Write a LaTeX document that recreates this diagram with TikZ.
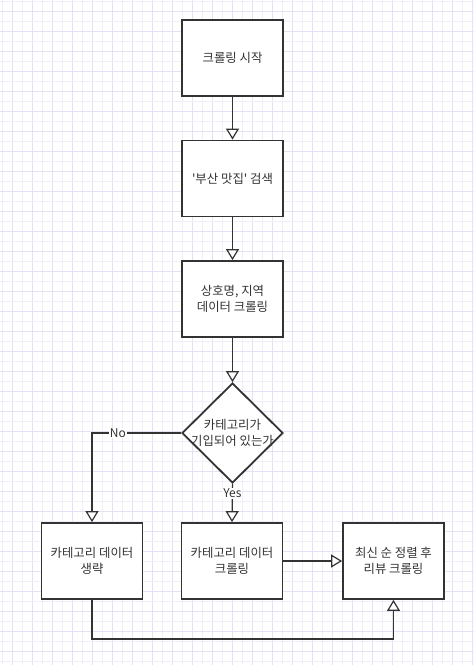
\documentclass[tikz,border=0pt]{standalone}
\usepackage{fontspec}
\setmainfont{Noto Sans CJK KR}
\usetikzlibrary{shapes.geometric,arrows.meta}
\definecolor{gridA}{RGB}{239,239,250}
\definecolor{gridB}{RGB}{226,226,246}
\definecolor{ink}{RGB}{51,51,51}
\tikzset{
  box/.style={draw=ink, line width=1.8pt, fill=white, minimum width=101pt, minimum height=76pt, inner sep=0pt, align=center, text=ink, font=\fontsize{12.4}{16}\selectfont},
  conn/.style={draw=ink, line width=1.2pt, -{Triangle[length=11pt, width=13pt, fill=white, line width=1.2pt]}},
  lbl/.style={fill=white, inner sep=1pt, text=ink, font=\fontsize{12}{13}\selectfont},
  dia/.style={draw=ink, line width=1.8pt, fill=white, diamond, minimum width=101pt, minimum height=100pt, inner sep=0pt}
}
\begin{document}
\begin{tikzpicture}[x=1pt,y=-1pt]
\useasboundingbox (0,0) rectangle (474,665);
\fill[white] (0,0) rectangle (474,665);
\foreach \i in {0,...,47} {
  \pgfmathtruncatemacro{\m}{mod(\i,2)}
  \ifnum\m=1 \draw[gridB, line width=0.8pt] (2+10*\i,0) -- (2+10*\i,665);
  \else \draw[gridA, line width=0.8pt] (2+10*\i,0) -- (2+10*\i,665); \fi
}
\foreach \j in {0,...,66} {
  \pgfmathtruncatemacro{\m}{mod(\j,2)}
  \ifnum\m=1 \draw[gridB, line width=0.8pt] (0,1+10*\j) -- (474,1+10*\j);
  \else \draw[gridA, line width=0.8pt] (0,1+10*\j) -- (474,1+10*\j); \fi
}
\node[box] (b1) at (232.5,58) {크롤링 시작};
\node[box] (b2) at (232.5,178.5) {\textquotesingle 부산 맛집\textquotesingle{} 검색};
\node[box] (b3) at (232.5,299) {상호명, 지역\\데이터 크롤링};
\node[dia] (d) at (232.5,433) {};
\node[align=center, text=ink, font=\fontsize{12.4}{16}\selectfont] (dt) at (d) {카테고리가\\기입되어 있는가};
\node[box] (b4) at (92,561) {카테고리 데이터\\생략};
\node[box] (b5) at (232,561) {카테고리 데이터\\크롤링};
\node[box] (b6) at (393.5,561) {최신 순 정렬 후\\리뷰 크롤링};
\draw[conn] (b1) -- (b2);
\draw[conn] (b2) -- (b3);
\draw[conn] (b3) -- (d);
\draw[conn] (d.west) -| node[lbl, pos=0.355] {No} (b4.north);
\draw[conn] (d.south) -- node[lbl, pos=0.25] {Yes} (b5.north);
\draw[conn] (b5.east) -- (b6.west);
\draw[conn] (b4.south) -- ++(0,39) -| (b6.south);
\end{tikzpicture}
\end{document}
